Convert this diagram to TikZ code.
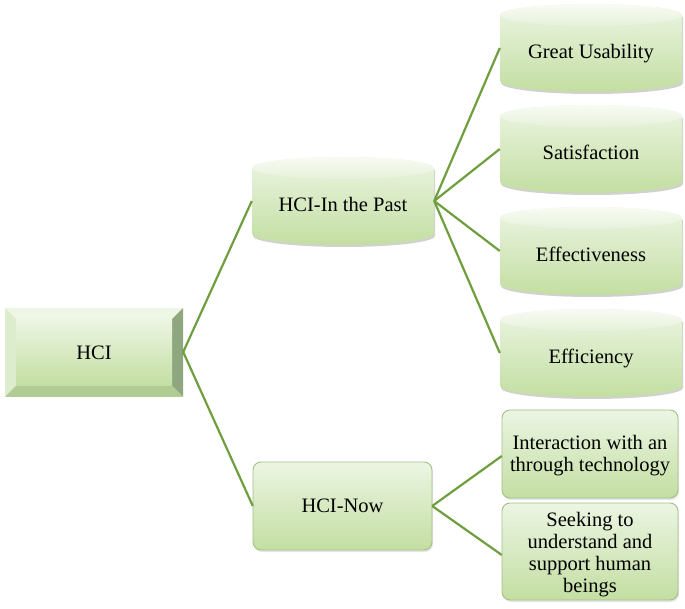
\documentclass[tikz,border=0pt]{standalone}
\usepackage{fontspec}
\setmainfont{Liberation Serif}
\usetikzlibrary{shadows}
\definecolor{cyltop}{HTML}{F8FBF3}
\definecolor{cyltopb}{HTML}{E6F1DA}
\definecolor{gtop}{HTML}{ECF5E3}
\definecolor{gbot}{HTML}{C3DEA2}
\definecolor{gborder}{HTML}{A2BF88}
\definecolor{gline}{HTML}{6F9E3E}
\definecolor{bevtop}{HTML}{EEF6E6}
\definecolor{bevleft}{HTML}{DDECCD}
\definecolor{bevright}{HTML}{8FA77F}
\definecolor{bevbot}{HTML}{B0CC93}
\newcommand\mkcyl[4]{%
  \fill[black, opacity=0.18] (#2-90,#3+31) -- (#2-90,#3-35) arc[start angle=180,end angle=360,x radius=91,y radius=11] -- (#2+92,#3+31) -- cycle;
  \shade[top color=gtop, bottom color=gbot] (#2-91,#3+33) -- (#2-91,#3-33) arc[start angle=180,end angle=360,x radius=91,y radius=11] -- (#2+91,#3+33) arc[start angle=0,end angle=180,x radius=91,y radius=11] -- cycle;
  \shade[top color=cyltop, bottom color=cyltopb] (#2,#3+33) ellipse[x radius=91, y radius=11];
  \node[cyltxt] (#1) at (#2,#3) {#4};
}
\begin{document}
\begin{tikzpicture}[x=1pt,y=1pt,
  txt/.style={font=\fontsize{20.5}{22}\selectfont, align=center, inner sep=0pt},
  cyltxt/.style={txt, minimum width=182pt, minimum height=88pt, text height=26pt, text depth=4pt},
  boxshape/.style={draw=gborder, line width=0.9pt, rounded corners=8pt, top color=gtop, bottom color=gbot,
    drop shadow={shadow xshift=1pt, shadow yshift=-2pt, opacity=0.2}},
  conn/.style={draw=gline, line width=2.2pt}]
\useasboundingbox (0,0) rectangle (685,608);

% HCI bevel box
\fill[bevtop] (5,300) -- (183,300) -- (172,289) -- (16,289) -- cycle;
\fill[bevleft] (5,300) -- (16,289) -- (16,222) -- (5,211) -- cycle;
\fill[bevright] (183,300) -- (183,211) -- (172,222) -- (172,289) -- cycle;
\fill[bevbot] (5,211) -- (183,211) -- (172,222) -- (16,222) -- cycle;
\shade[top color=gtop, bottom color=gbot] (16,222) rectangle (172,289);
\node[txt, minimum width=178pt, minimum height=89pt, text height=20pt, text depth=4pt] (hci) at (94,256) {HCI};

% cylinders
\mkcyl{past}{343}{407}{HCI-In the Past}
\mkcyl{gu}{591}{560}{Great Usability}
\mkcyl{sat}{591}{459}{Satisfaction}
\mkcyl{eff}{591}{357}{Effectiveness}
\mkcyl{effi}{591}{255}{Efficiency}

% rounded boxes
\path[boxshape] (253,58) rectangle (432,146);
\path[boxshape] (502,110) rectangle (678,198);
\path[boxshape] (502,8) rectangle (678,105);
\node[txt, minimum width=179pt] (now) at (342.5,102) {HCI-Now};
\node[txt, minimum width=176pt] (inter) at (590,152) {Interaction with an\\through technology};
\node[txt, minimum width=176pt] (seek) at (590,53) {Seeking to\\understand and\\support human\\beings};

% connectors
\draw[conn] (hci.east) -- (past.west);
\draw[conn] (hci.east) -- (now.west);
\draw[conn] (past.east) -- (gu.west);
\draw[conn] (past.east) -- (sat.west);
\draw[conn] (past.east) -- (eff.west);
\draw[conn] (past.east) -- (effi.west);
\draw[conn] (now.east) -- (inter.west);
\draw[conn] (now.east) -- (seek.west);
\end{tikzpicture}
\end{document}
